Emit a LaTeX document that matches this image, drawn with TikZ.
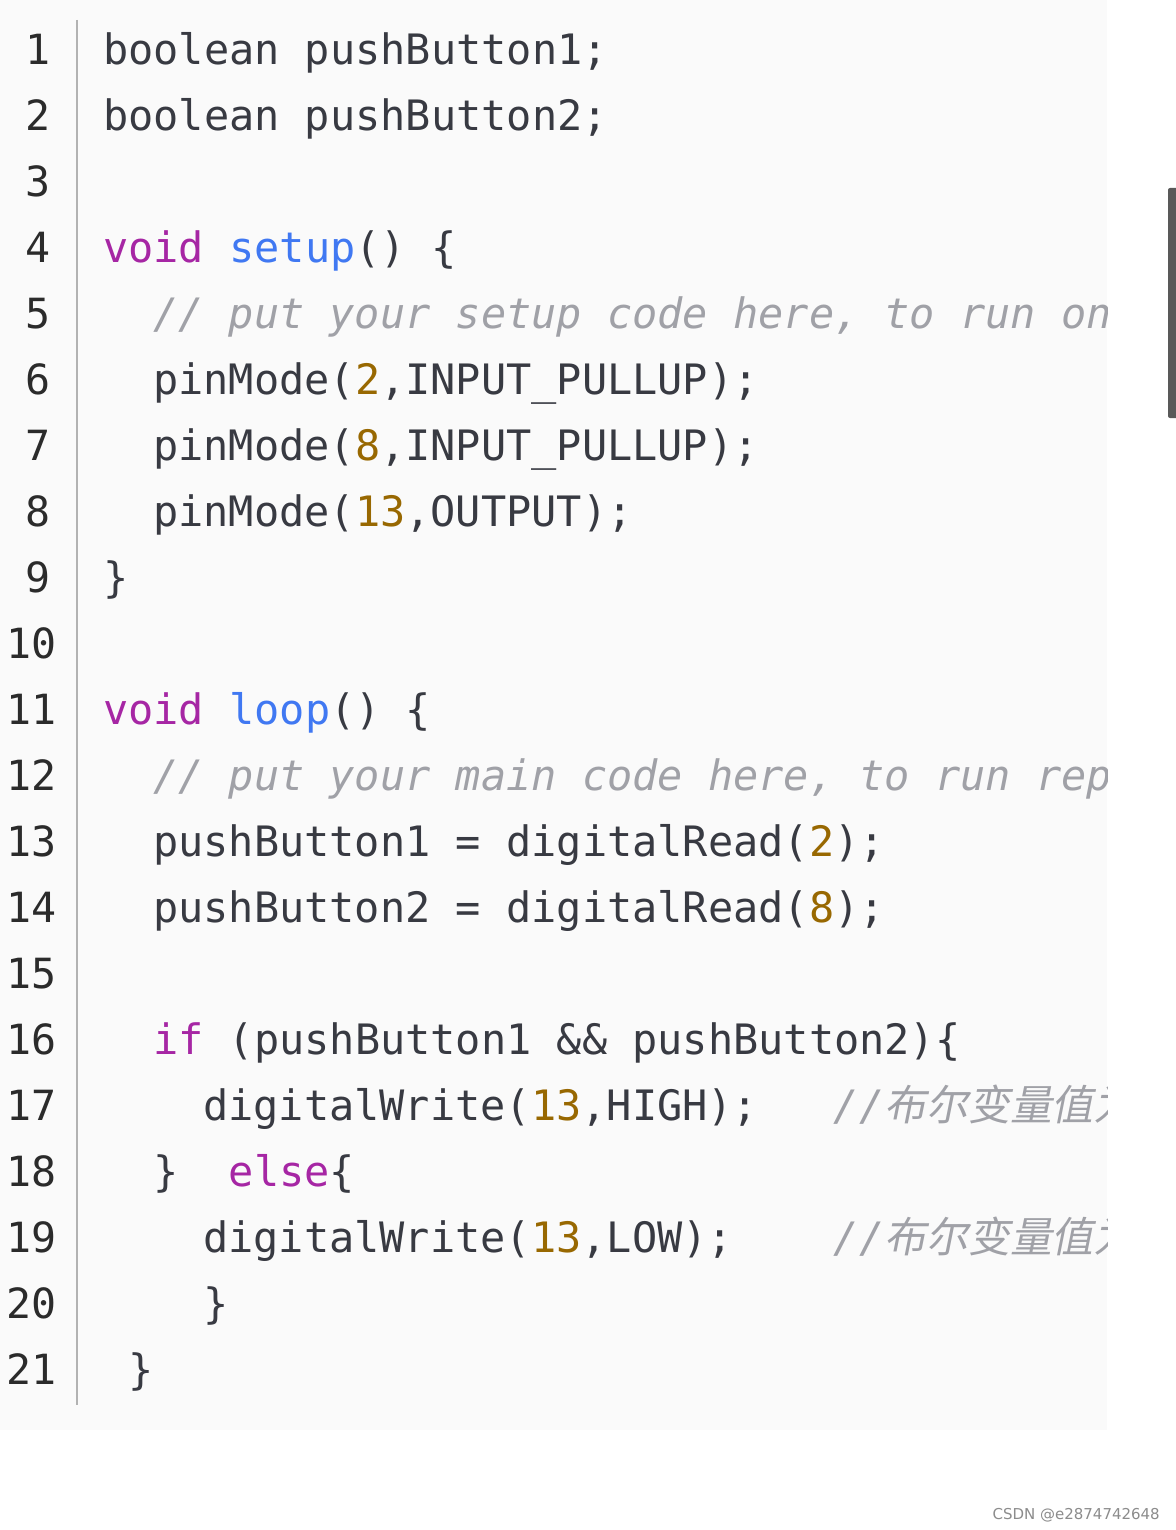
\documentclass[tikz,border=0pt]{standalone}
\usepackage{fontspec}
\setmainfont{DejaVu Sans}
\newfontfamily\cmono{DejaVu Sans Mono}
\newfontfamily\cjkit[FakeSlant=0.2]{Noto Sans CJK SC}
\definecolor{bgc}{HTML}{FAFAFA}
\definecolor{txt}{HTML}{383A42}
\definecolor{kw}{HTML}{A626A4}
\definecolor{fn}{HTML}{4078F2}
\definecolor{num}{HTML}{986801}
\definecolor{cmt}{HTML}{A0A1A7}
\definecolor{lno}{HTML}{2B2B2B}
\newcommand{\K}[1]{\textcolor{kw}{#1}}
\newcommand{\F}[1]{\textcolor{fn}{#1}}
\newcommand{\N}[1]{\textcolor{num}{#1}}
\newcommand{\C}[1]{\textcolor{cmt}{\itshape #1}}
\newcommand{\CJ}[1]{\textcolor{cmt}{\cjkit #1}}
\begin{document}
\begin{tikzpicture}[x=1pt,y=-1pt,
  code/.style={anchor=base west,inner sep=0pt,font=\fontsize{41.9}{42}\cmono,text=txt},
  lnum/.style={anchor=base east,inner sep=0pt,font=\fontsize{41.6}{42}\cmono,text=lno}]
\useasboundingbox (0,0) rectangle (1175,1530);
\fill[white] (0,0) rectangle (1175,1530);
\fill[bgc] (0,0) rectangle (1107,1430);
\draw[line width=2.5pt,black!30] (77,20) -- (77,1405);
\fill[black!65,rounded corners=2pt] (1168,188) rectangle (1180,418);
\foreach \i in {1,...,9}{
  \node[lnum] (n\i) at (51,{65+(\i-1)*65.95}) {\i};
}
\foreach \i in {10,...,21}{
  \node[lnum] (n\i) at (57,{65+(\i-1)*65.95}) {\i};
}
\begin{scope}
\clip (0,0) rectangle (1107,1430);
\def\B#1{65+(#1-1)*65.95}
\node[code] (l1) at (103,{\B{1}}) {boolean pushButton1;};
\node[code] (l2) at (103,{\B{2}}) {boolean pushButton2;};
\node[code] (l4) at (103,{\B{4}}) {\K{void} \F{setup}() \{};
\node[code] (l5) at (153,{\B{5}}) {\C{//\ put\ your\ setup\ code\ here,\ to\ run\ once:}};
\node[code] (l6) at (153,{\B{6}}) {pinMode(\N{2},INPUT\_PULLUP);};
\node[code] (l7) at (153,{\B{7}}) {pinMode(\N{8},INPUT\_PULLUP);};
\node[code] (l8) at (153,{\B{8}}) {pinMode(\N{13},OUTPUT);};
\node[code] (l9) at (103,{\B{9}}) {\}};
\node[code] (l11) at (103,{\B{11}}) {\K{void} \F{loop}() \{};
\node[code] (l12) at (153,{\B{12}}) {\C{//\ put\ your\ main\ code\ here,\ to\ run\ repeatedly:}};
\node[code] (l13) at (153,{\B{13}}) {pushButton1 = digitalRead(\N{2});};
\node[code] (l14) at (153,{\B{14}}) {pushButton2 = digitalRead(\N{8});};
\node[code] (l16) at (153,{\B{16}}) {\K{if} (pushButton1 \&\& pushButton2)\{};
\node[code] (l17) at (203,{\B{17}}) {digitalWrite(\N{13},HIGH);\ \ \ \C{//}\CJ{布尔变量值为真}};
\node[code] (l18) at (153,{\B{18}}) {\}\ \ \K{else}\{};
\node[code] (l19) at (203,{\B{19}}) {digitalWrite(\N{13},LOW);\ \ \ \ \C{//}\CJ{布尔变量值为假}};
\node[code] (l20) at (203,{\B{20}}) {\}};
\node[code] (l21) at (128,{\B{21}}) {\}};
\end{scope}
\node[anchor=base east,inner sep=0pt,font=\fontsize{15}{16}\selectfont,text=black!45] (wm) at (1160,1519) {CSDN @e2874742648};
\end{tikzpicture}
\end{document}
